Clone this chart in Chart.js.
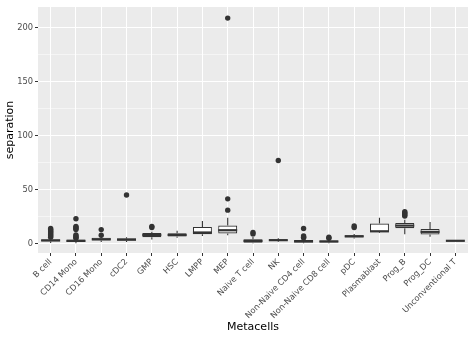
<!DOCTYPE html>
<html>
<head>
<meta charset="utf-8">
<script src="https://cdn.jsdelivr.net/npm/chart.js@4"></script>
<style>
  html, body { margin: 0; padding: 0; background: #fff; }
  #wrap { width: 474px; height: 338px; }
</style>
</head>
<body>
<div id="wrap"><canvas id="boxChart"></canvas></div>
<script>
// values
const categories = ['B cell', 'CD14 Mono', 'CD16 Mono', 'cDC2', 'GMP', 'HSC', 'LMPP', 'MEP', 'Naive T cell', 'NK',
  'Non-Naive CD4 cell', 'Non-Naive CD8 cell', 'pDC', 'Plasmablast', 'Prog_B', 'Prog_DC', 'Unconventional T'];
const whiskerLow  = [0.5, 0.3, 1.5, 1.5, 3.9, 5.5, 7.0, 7.8, 0.3, 1.8, 0.3, 0.3, 4.8, 10.0, 8.7, 6.3, 2.2];
const q1          = [2.0, 1.5, 3.0, 2.6, 6.0, 6.5, 8.7, 9.4, 0.8, 2.6, 1.0, 1.0, 5.7, 10.9, 14.3, 8.5, 2.3];
const median      = [3.0, 2.5, 4.0, 3.8, 8.0, 8.0, 10.3, 12.4, 2.5, 3.2, 2.0, 2.0, 6.8, 11.4, 16.7, 10.9, 2.6];
const q3          = [3.9, 3.9, 5.5, 4.7, 9.9, 9.6, 15.4, 16.7, 4.1, 3.8, 3.3, 3.0, 7.8, 18.6, 19.1, 13.6, 2.9];
const whiskerHigh = [5.0, 5.0, 6.5, 6.0, 11.0, 12.0, 21.0, 24.0, 6.3, 5.0, 4.5, 4.0, 9.0, 24.0, 22.0, 20.0, 3.2];
const outliers = [
  [6, 7, 8, 9, 10, 11, 12, 13, 14],
  [5, 6, 7, 8, 13, 14, 15, 16, 23],
  [7.8, 13],
  [45],
  [15, 16],
  [],
  [],
  [31, 41.5, 209],
  [9, 10.3],
  [77],
  [5.5, 6, 7, 14],
  [5, 6],
  [15, 16.4],
  [],
  [25.5, 26.5, 27.5, 28.5, 29.5],
  [],
  []
];
const yTicks = [0, 50, 100, 150, 200];

const boxData = categories.map((c, i) => [q1[i], q3[i]]);
const outlierData = [];
outliers.forEach((list, i) => list.forEach(v => outlierData.push({ x: categories[i], y: v })));

// grey panel behind everything
const panelBg = {
  id: 'panelBg',
  beforeDraw(chart) {
    const { ctx, chartArea } = chart;
    ctx.save();
    ctx.fillStyle = '#EBEBEB';
    ctx.fillRect(chartArea.left, chartArea.top, chartArea.right - chartArea.left, chartArea.bottom - chartArea.top);
    ctx.restore();
  }
};

// whiskers + medians on top of the floating bars
const boxParts = {
  id: 'boxParts',
  afterDatasetsDraw(chart) {
    const { ctx } = chart;
    const y = chart.scales.y;
    const bars = chart.getDatasetMeta(0).data;
    ctx.save();
    ctx.strokeStyle = '#333333';
    bars.forEach((bar, i) => {
      const half = bar.width / 2;
      ctx.lineWidth = 1.1;
      ctx.beginPath();
      ctx.moveTo(bar.x, y.getPixelForValue(q3[i]));
      ctx.lineTo(bar.x, y.getPixelForValue(whiskerHigh[i]));
      ctx.moveTo(bar.x, y.getPixelForValue(q1[i]));
      ctx.lineTo(bar.x, y.getPixelForValue(whiskerLow[i]));
      ctx.stroke();
      ctx.lineWidth = 2.2;
      ctx.beginPath();
      const my = y.getPixelForValue(median[i]);
      ctx.moveTo(bar.x - half, my);
      ctx.lineTo(bar.x + half, my);
      ctx.stroke();
    });
    ctx.restore();
  }
};

const tickFont = { family: "'DejaVu Sans', sans-serif", size: 8.3 };
const titleFont = { family: "'DejaVu Sans', sans-serif", size: 11 };

new Chart(document.getElementById('boxChart'), {
  type: 'bar',
  data: {
    labels: categories,
    datasets: [{
      type: 'bar',
      data: boxData,
      backgroundColor: '#FFFFFF',
      borderColor: '#333333',
      borderWidth: 1.1,
      borderSkipped: false,
      barPercentage: 0.75,
      categoryPercentage: 1,
      order: 2
    }, {
      type: 'line',
      data: outlierData,
      showLine: false,
      pointRadius: 2.7,
      pointBackgroundColor: '#333333',
      pointBorderWidth: 0,
      order: 1
    }]
  },
  options: {
    responsive: true,
    maintainAspectRatio: false,
    animation: false,
    layout: { padding: { top: 5, right: 6, left: 0, bottom: 0 } },
    plugins: {
      legend: { display: false },
      tooltip: { enabled: false }
    },
    scales: {
      x: {
        grid: {
          offset: false,
          color: '#FFFFFF',
          lineWidth: 1,
          tickColor: '#333333',
          tickLength: 3
        },
        border: { display: false },
        ticks: {
          font: tickFont,
          color: '#4D4D4D',
          maxRotation: 45,
          minRotation: 45,
          autoSkip: false,
          padding: 1
        },
        title: {
          display: true,
          text: 'Metacells',
          font: titleFont,
          color: '#000000',
          padding: { top: 2, bottom: 4 }
        },
        afterFit(scale) { scale.height = 85; }
      },
      y: {
        min: -8.7,
        max: 219.3,
        grid: {
          color: '#FFFFFF',
          lineWidth: ctx => (ctx.tick && yTicks.includes(ctx.tick.value)) ? 1 : 0.5,
          tickColor: ctx => (ctx.tick && yTicks.includes(ctx.tick.value)) ? '#333333' : 'rgba(0,0,0,0)',
          tickLength: 3
        },
        border: { display: false },
        ticks: {
          stepSize: 25,
          includeBounds: false,
          font: tickFont,
          color: '#4D4D4D',
          padding: 2,
          callback: v => yTicks.includes(v) ? String(v) : ''
        },
        title: {
          display: true,
          text: 'separation',
          font: titleFont,
          color: '#000000',
          padding: { top: 4, bottom: 2 }
        },
        afterFit(scale) { scale.width = 38; }
      }
    }
  },
  plugins: [panelBg, boxParts]
});
</script>
</body>
</html>
